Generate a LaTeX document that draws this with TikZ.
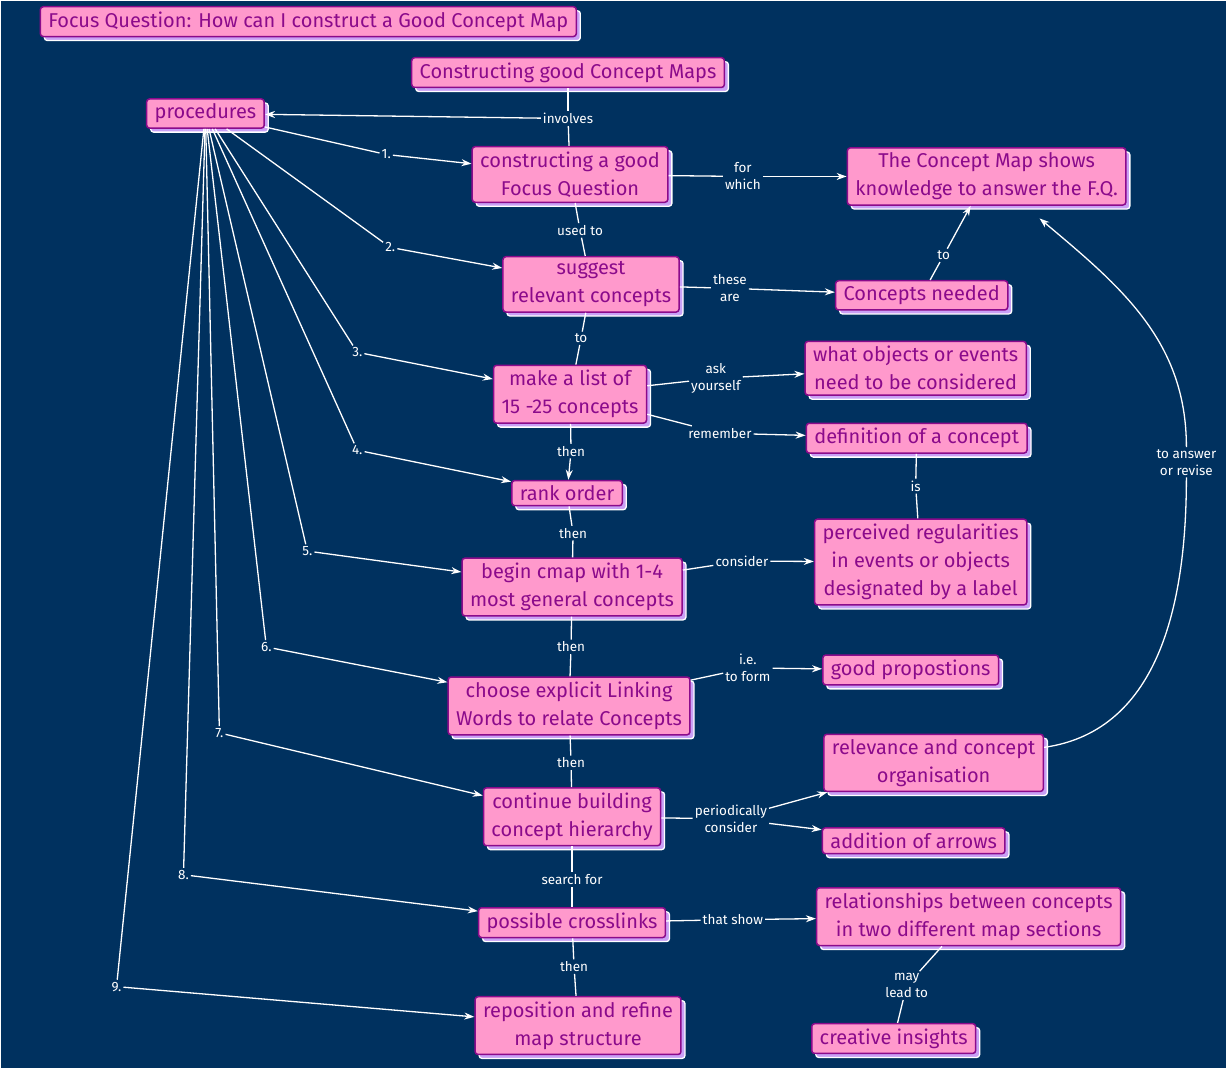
\documentclass[tikz,border=0pt]{standalone}
\usepackage{fontspec}
\setmainfont{Fira Sans}
\usetikzlibrary{shadows,arrows.meta}
\definecolor{navy}{HTML}{00315F}
\definecolor{pinkfill}{HTML}{FF99CC}
\definecolor{purp}{HTML}{8B0A8B}
\definecolor{lav}{HTML}{C9A0F5}
\begin{document}
\begin{tikzpicture}
[x=1pt, y=-1pt,
 concept/.style={draw=purp, line width=1.5pt, fill=pinkfill, rounded corners=3pt, text=purp,
   font=\fontsize{20}{28}\selectfont, align=center, inner xsep=8pt, inner ysep=5pt,
   drop shadow={shadow xshift=4pt, shadow yshift=-4pt, fill=lav, opacity=1}},
 link/.style={text=white, font=\fontsize{13.5}{17}\selectfont, align=center, inner sep=1.5pt},
 every path/.style={draw=white, line width=1.3pt},
 arr/.style={-{Stealth[length=10pt,width=7pt]}}]
\fill[navy, draw=none] (0,0) rectangle (1227,1069);
\useasboundingbox (0,0) rectangle (1227,1069);
% concepts
\node (focus) [concept] at (308,21) {Focus Question: How can I construct a Good Concept Map};
\node (cgcm) [concept] at (568,72) {Constructing good Concept Maps};
\node (proc) [concept] at (205,113) {procedures};
\node (cfq) [concept] at (570,174) {constructing a good\\Focus Question};
\node (shows) [concept] at (987,176) {The Concept Map shows\\knowledge to answer the F.Q.};
\node (suggest) [concept] at (591,284) {suggest\\relevant concepts};
\node (needed) [concept] at (922,295) {Concepts needed};
\node (list) [concept] at (570,394) {make a list of\\15 -25 concepts};
\node (objects) [concept] at (916,368) {what objects or events\\need to be considered};
\node (defn) [concept] at (917,438) {definition of a concept};
\node (rank) [concept] at (567,493) {rank order};
\node (perc) [concept] at (921,562) {perceived regularities\\in events or objects\\designated by a label};
\node (begin) [concept] at (572,587) {begin cmap with 1-4\\most general concepts};
\node (goodp) [concept] at (911,670) {good propostions};
\node (choose) [concept] at (569,706) {choose explicit Linking\\Words to relate Concepts};
\node (rel) [concept] at (934,763) {relevance and concept\\organisation};
\node (cont) [concept] at (572,817) {continue building\\concept hierarchy};
\node (arrows) [concept] at (914,841) {addition of arrows};
\node (cross) [concept] at (572,923) {possible crosslinks};
\node (relb) [concept] at (969,917) {relationships between concepts\\in two different map sections};
\node (repo) [concept] at (578,1026) {reposition and refine\\map structure};
\node (creat) [concept] at (894,1039) {creative insights};
% linking words
\node (involves) [link] at (568,118) {involves};
\node (n1) [link] at (386,154) {1.};
\node (n2) [link] at (390,247) {2.};
\node (n3) [link] at (357,352) {3.};
\node (n4) [link] at (357,450) {4.};
\node (n5) [link] at (307,551) {5.};
\node (n6) [link] at (266,647) {6.};
\node (n7) [link] at (219,733) {7.};
\node (n8) [link] at (183,875) {8.};
\node (n9) [link] at (116,987) {9.};
\node (forwhich) [link] at (743,176) {for\\which};
\node (usedto) [link] at (580,230) {used to};
\node (theseare) [link] at (730,288) {these\\are};
\node (to1) [link] at (944,255) {to};
\node (to2) [link] at (581,338) {to};
\node (ask) [link] at (716,378) {ask\\yourself};
\node (remember) [link] at (720,433) {remember};
\node (then1) [link] at (571,451) {then};
\node (is) [link] at (916,486) {is};
\node (then2) [link] at (573,533) {then};
\node (consider) [link] at (742,561) {consider};
\node (then3) [link] at (571,647) {then};
\node (ie) [link] at (748,668) {i.e.\\to form};
\node (then4) [link] at (571,763) {then};
\node (period) [link] at (731,819) {periodically\\consider};
\node (revise) [link] at (1187,462) {to answer\\or revise};
\node (search) [link] at (572,880) {search for};
\node (thatshow) [link] at (733,920) {that show};
\node (then5) [link] at (574,967) {then};
\node (may) [link] at (907,986) {may\\lead to};
% connectors
\draw (cgcm) -- (involves);
\draw [arr] (involves) -- (proc);
\draw (involves) -- (cfq);
\foreach \n/\t in {n1/cfq, n2/suggest, n3/list, n4/rank, n5/begin, n6/choose, n7/cont, n8/cross, n9/repo}
  {\draw (proc) -- (\n); \draw [arr] (\n) -- (\t);}
\draw (cfq) -- (forwhich); \draw [arr] (forwhich) -- (shows);
\draw (cfq) -- (usedto) -- (suggest);
\draw (suggest) -- (theseare); \draw [arr] (theseare) -- (needed);
\draw (needed) -- (to1); \draw [arr] (to1) -- (shows);
\draw (suggest) -- (to2) -- (list);
\draw (list) -- (ask); \draw [arr] (ask) -- (objects);
\draw (list) -- (remember); \draw [arr] (remember) -- (defn);
\draw (list) -- (then1); \draw [arr] (then1) -- (rank);
\draw (defn) -- (is) -- (perc);
\draw (rank) -- (then2) -- (begin);
\draw (begin) -- (consider); \draw [arr] (consider) -- (perc);
\draw (begin) -- (then3) -- (choose);
\draw (choose) -- (ie); \draw [arr] (ie) -- (goodp);
\draw (choose) -- (then4) -- (cont);
\draw (cont) -- (period); \draw [arr] (period) -- (rel); \draw [arr] (period) -- (arrows);
\draw (rel) to [out=8, in=-90] (revise);
\draw [arr] (revise) to [out=90, in=-40] (1040,218);
\draw (cont) -- (search) -- (cross);
\draw (cross) -- (thatshow); \draw [arr] (thatshow) -- (relb);
\draw (cross) -- (then5) -- (repo);
\draw (relb) -- (may) -- (creat);
\end{tikzpicture}
\end{document}
